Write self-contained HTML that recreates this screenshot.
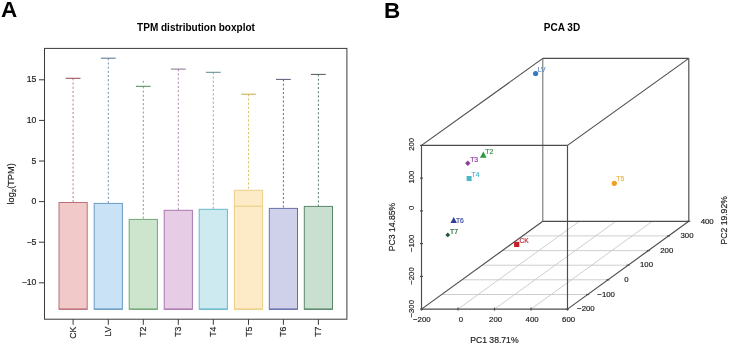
<!DOCTYPE html>
<html><head><meta charset="utf-8"><style>
html,body{margin:0;padding:0;background:#fff;width:729px;height:345px;overflow:hidden}
svg{display:block;font-family:"Liberation Sans", sans-serif;will-change:transform}
</style></head><body>
<svg width="729" height="345" viewBox="0 0 729 345">
<rect width="729" height="345" fill="#fff"/>
<text x="0.9" y="17.45" font-size="22.5" text-anchor="start" font-weight="bold" fill="#000">A</text>
<text x="196" y="30.8" font-size="10" text-anchor="middle" font-weight="bold" fill="#000">TPM distribution boxplot</text>
<rect x="44.5" y="48.4" width="302.4" height="270.8" fill="none" stroke="#3a3a3a" stroke-width="1"/>
<line x1="39" y1="79.8" x2="44.5" y2="79.8" stroke="#3a3a3a" stroke-width="1"/>
<text x="36.4" y="82.4" font-size="8.7" text-anchor="end" font-weight="normal" fill="#222" stroke="#222" stroke-width="0.18">15</text>
<line x1="39" y1="120.4" x2="44.5" y2="120.4" stroke="#3a3a3a" stroke-width="1"/>
<text x="36.4" y="123.0" font-size="8.7" text-anchor="end" font-weight="normal" fill="#222" stroke="#222" stroke-width="0.18">10</text>
<line x1="39" y1="161.0" x2="44.5" y2="161.0" stroke="#3a3a3a" stroke-width="1"/>
<text x="36.4" y="163.6" font-size="8.7" text-anchor="end" font-weight="normal" fill="#222" stroke="#222" stroke-width="0.18">5</text>
<line x1="39" y1="201.6" x2="44.5" y2="201.6" stroke="#3a3a3a" stroke-width="1"/>
<text x="36.4" y="204.2" font-size="8.7" text-anchor="end" font-weight="normal" fill="#222" stroke="#222" stroke-width="0.18">0</text>
<line x1="39" y1="242.2" x2="44.5" y2="242.2" stroke="#3a3a3a" stroke-width="1"/>
<text x="36.4" y="244.79999999999998" font-size="8.7" text-anchor="end" font-weight="normal" fill="#222" stroke="#222" stroke-width="0.18">−5</text>
<line x1="39" y1="282.8" x2="44.5" y2="282.8" stroke="#3a3a3a" stroke-width="1"/>
<text x="36.4" y="285.4" font-size="8.7" text-anchor="end" font-weight="normal" fill="#222" stroke="#222" stroke-width="0.18">−10</text>
<text x="14.3" y="183.9" font-size="9.2" text-anchor="middle" font-weight="normal" fill="#222" stroke="#222" stroke-width="0.18" transform="rotate(-90 14.3 183.9)">log<tspan font-size="6.2" dy="1.7">2</tspan><tspan dy="-1.7">(TPM)</tspan></text>
<line x1="73.1" y1="78.3" x2="73.1" y2="202.5" stroke="#b48288" stroke-width="1" stroke-dasharray="2.1 2.1"/>
<line x1="65.69999999999999" y1="78.3" x2="80.5" y2="78.3" stroke="#8a4a52" stroke-width="1"/>
<rect x="58.99999999999999" y="202.5" width="28.2" height="106.7" fill="#f2c9c9" stroke="#bc7078" stroke-width="1"/>
<line x1="58.99999999999999" y1="309.2" x2="87.19999999999999" y2="309.2" stroke="#bc7078" stroke-width="1.2"/>
<line x1="73.1" y1="319.2" x2="73.1" y2="324.8" stroke="#3a3a3a" stroke-width="1"/>
<text x="76.19999999999999" y="326.6" font-size="8.7" text-anchor="end" font-weight="normal" fill="#222" stroke="#222" stroke-width="0.18" transform="rotate(-90 76.19999999999999 326.6)">CK</text>
<line x1="108.3" y1="58.2" x2="108.3" y2="203.4" stroke="#7890b4" stroke-width="1" stroke-dasharray="2.1 2.1"/>
<line x1="100.89999999999999" y1="58.2" x2="115.7" y2="58.2" stroke="#50708a" stroke-width="1"/>
<rect x="94.2" y="203.4" width="28.2" height="105.8" fill="#c9e2f5" stroke="#6a9cc4" stroke-width="1"/>
<line x1="94.2" y1="309.2" x2="122.39999999999999" y2="309.2" stroke="#6a9cc4" stroke-width="1.2"/>
<line x1="108.3" y1="319.2" x2="108.3" y2="324.8" stroke="#3a3a3a" stroke-width="1"/>
<text x="111.39999999999999" y="326.6" font-size="8.7" text-anchor="end" font-weight="normal" fill="#222" stroke="#222" stroke-width="0.18" transform="rotate(-90 111.39999999999999 326.6)">LV</text>
<line x1="143.3" y1="86.3" x2="143.3" y2="219.4" stroke="#78a87c" stroke-width="1" stroke-dasharray="2.1 2.1"/>
<line x1="135.9" y1="86.3" x2="150.70000000000002" y2="86.3" stroke="#4a8a55" stroke-width="1"/>
<rect x="129.20000000000002" y="219.4" width="28.2" height="89.8" fill="#cde5cc" stroke="#70a878" stroke-width="1"/>
<line x1="129.20000000000002" y1="309.2" x2="157.4" y2="309.2" stroke="#70a878" stroke-width="1.2"/>
<line x1="143.3" y1="319.2" x2="143.3" y2="324.8" stroke="#3a3a3a" stroke-width="1"/>
<text x="146.4" y="326.6" font-size="8.7" text-anchor="end" font-weight="normal" fill="#222" stroke="#222" stroke-width="0.18" transform="rotate(-90 146.4 326.6)">T2</text>
<line x1="178.3" y1="69.1" x2="178.3" y2="210.3" stroke="#b088a8" stroke-width="1" stroke-dasharray="2.1 2.1"/>
<line x1="170.9" y1="69.1" x2="185.70000000000002" y2="69.1" stroke="#8a6a90" stroke-width="1"/>
<rect x="164.20000000000002" y="210.3" width="28.2" height="98.9" fill="#e7cce5" stroke="#a878b0" stroke-width="1"/>
<line x1="164.20000000000002" y1="309.2" x2="192.4" y2="309.2" stroke="#a878b0" stroke-width="1.2"/>
<line x1="178.3" y1="319.2" x2="178.3" y2="324.8" stroke="#3a3a3a" stroke-width="1"/>
<text x="181.4" y="326.6" font-size="8.7" text-anchor="end" font-weight="normal" fill="#222" stroke="#222" stroke-width="0.18" transform="rotate(-90 181.4 326.6)">T3</text>
<line x1="213.3" y1="72.3" x2="213.3" y2="209.3" stroke="#78b4c4" stroke-width="1" stroke-dasharray="2.1 2.1"/>
<line x1="205.9" y1="72.3" x2="220.70000000000002" y2="72.3" stroke="#5a8a90" stroke-width="1"/>
<rect x="199.20000000000002" y="209.3" width="28.2" height="99.9" fill="#cdeaf1" stroke="#68b8cc" stroke-width="1"/>
<line x1="199.20000000000002" y1="309.2" x2="227.4" y2="309.2" stroke="#68b8cc" stroke-width="1.2"/>
<line x1="213.3" y1="319.2" x2="213.3" y2="324.8" stroke="#3a3a3a" stroke-width="1"/>
<text x="216.4" y="326.6" font-size="8.7" text-anchor="end" font-weight="normal" fill="#222" stroke="#222" stroke-width="0.18" transform="rotate(-90 216.4 326.6)">T4</text>
<line x1="248.5" y1="94.2" x2="248.5" y2="190.3" stroke="#dcc070" stroke-width="1" stroke-dasharray="2.1 2.1"/>
<line x1="241.1" y1="94.2" x2="255.9" y2="94.2" stroke="#c8a848" stroke-width="1"/>
<rect x="234.4" y="190.3" width="28.2" height="118.9" fill="#fdebc8" stroke="#eccf88" stroke-width="1"/>
<line x1="234.4" y1="206.2" x2="262.6" y2="206.2" stroke="#eccf88" stroke-width="1.2"/>
<line x1="234.4" y1="309.2" x2="262.6" y2="309.2" stroke="#eccf88" stroke-width="1.2"/>
<line x1="248.5" y1="319.2" x2="248.5" y2="324.8" stroke="#3a3a3a" stroke-width="1"/>
<text x="251.6" y="326.6" font-size="8.7" text-anchor="end" font-weight="normal" fill="#222" stroke="#222" stroke-width="0.18" transform="rotate(-90 251.6 326.6)">T5</text>
<line x1="283.4" y1="79.4" x2="283.4" y2="208.4" stroke="#606a98" stroke-width="1" stroke-dasharray="2.1 2.1"/>
<line x1="276.0" y1="79.4" x2="290.79999999999995" y2="79.4" stroke="#5a5a78" stroke-width="1"/>
<rect x="269.29999999999995" y="208.4" width="28.2" height="100.8" fill="#cfd0ea" stroke="#6870aa" stroke-width="1"/>
<line x1="269.29999999999995" y1="309.2" x2="297.5" y2="309.2" stroke="#6870aa" stroke-width="1.2"/>
<line x1="283.4" y1="319.2" x2="283.4" y2="324.8" stroke="#3a3a3a" stroke-width="1"/>
<text x="286.5" y="326.6" font-size="8.7" text-anchor="end" font-weight="normal" fill="#222" stroke="#222" stroke-width="0.18" transform="rotate(-90 286.5 326.6)">T6</text>
<line x1="318.4" y1="74.4" x2="318.4" y2="206.4" stroke="#5a8068" stroke-width="1" stroke-dasharray="2.1 2.1"/>
<line x1="311.0" y1="74.4" x2="325.79999999999995" y2="74.4" stroke="#4a5a50" stroke-width="1"/>
<rect x="304.29999999999995" y="206.4" width="28.2" height="102.8" fill="#c9e0d1" stroke="#58886a" stroke-width="1"/>
<line x1="304.29999999999995" y1="309.2" x2="332.5" y2="309.2" stroke="#58886a" stroke-width="1.2"/>
<line x1="318.4" y1="319.2" x2="318.4" y2="324.8" stroke="#3a3a3a" stroke-width="1"/>
<text x="321.5" y="326.6" font-size="8.7" text-anchor="end" font-weight="normal" fill="#222" stroke="#222" stroke-width="0.18" transform="rotate(-90 321.5 326.6)">T7</text>
<line x1="143.3" y1="80.8" x2="143.3" y2="82.8" stroke="#78a87c" stroke-width="1"/>
<text x="384.1" y="17.85" font-size="22.5" text-anchor="start" font-weight="bold" fill="#000">B</text>
<text x="562" y="30.5" font-size="10" text-anchor="middle" font-weight="bold" fill="#000">PCA 3D</text>
<line x1="441.7" y1="294.5" x2="587.7" y2="294.5" stroke="#c8c8c8" stroke-width="0.9"/>
<line x1="461.9" y1="279.8" x2="607.9" y2="279.8" stroke="#c8c8c8" stroke-width="0.9"/>
<line x1="482.1" y1="265.2" x2="628.1" y2="265.2" stroke="#c8c8c8" stroke-width="0.9"/>
<line x1="502.4" y1="250.6" x2="648.4" y2="250.6" stroke="#c8c8c8" stroke-width="0.9"/>
<line x1="522.6" y1="235.9" x2="668.6" y2="235.9" stroke="#c8c8c8" stroke-width="0.9"/>
<line x1="458.0" y1="309.1" x2="579.3" y2="221.3" stroke="#c8c8c8" stroke-width="0.9"/>
<line x1="494.5" y1="309.1" x2="615.8" y2="221.3" stroke="#c8c8c8" stroke-width="0.9"/>
<line x1="531.0" y1="309.1" x2="652.3" y2="221.3" stroke="#c8c8c8" stroke-width="0.9"/>
<line x1="542.8" y1="221.3" x2="542.8" y2="58.4" stroke="#7a7a7a" stroke-width="1.15"/>
<line x1="542.8" y1="58.4" x2="688.8" y2="58.4" stroke="#4c4c4c" stroke-width="1.15"/>
<line x1="688.8" y1="221.3" x2="688.8" y2="58.4" stroke="#4c4c4c" stroke-width="1.15"/>
<line x1="542.8" y1="221.3" x2="688.8" y2="221.3" stroke="#4c4c4c" stroke-width="1.15"/>
<line x1="421.5" y1="145.4" x2="542.8" y2="58.4" stroke="#4c4c4c" stroke-width="1.15"/>
<line x1="567.5" y1="145.4" x2="688.8" y2="58.4" stroke="#4c4c4c" stroke-width="1.15"/>
<line x1="421.5" y1="309.1" x2="542.8" y2="221.3" stroke="#4c4c4c" stroke-width="1.15"/>
<line x1="567.5" y1="309.1" x2="688.8" y2="221.3" stroke="#4c4c4c" stroke-width="1.15"/>
<line x1="421.5" y1="309.1" x2="567.5" y2="309.1" stroke="#4c4c4c" stroke-width="1.15"/>
<line x1="421.5" y1="145.4" x2="567.5" y2="145.4" stroke="#4c4c4c" stroke-width="1.15"/>
<line x1="421.5" y1="309.1" x2="421.5" y2="145.4" stroke="#4c4c4c" stroke-width="1.15"/>
<line x1="567.5" y1="309.1" x2="567.5" y2="145.4" stroke="#4c4c4c" stroke-width="1.15"/>
<line x1="421.5" y1="307.6" x2="421.5" y2="310.6" stroke="#4c4c4c" stroke-width="1.15"/>
<line x1="458.0" y1="307.6" x2="458.0" y2="310.6" stroke="#4c4c4c" stroke-width="1.15"/>
<line x1="494.5" y1="307.6" x2="494.5" y2="310.6" stroke="#4c4c4c" stroke-width="1.15"/>
<line x1="531.0" y1="307.6" x2="531.0" y2="310.6" stroke="#4c4c4c" stroke-width="1.15"/>
<line x1="567.5" y1="307.6" x2="567.5" y2="310.6" stroke="#4c4c4c" stroke-width="1.15"/>
<line x1="420.0" y1="309.1" x2="423.0" y2="309.1" stroke="#4c4c4c" stroke-width="1.15"/>
<line x1="420.0" y1="276.4" x2="423.0" y2="276.4" stroke="#4c4c4c" stroke-width="1.15"/>
<line x1="420.0" y1="243.6" x2="423.0" y2="243.6" stroke="#4c4c4c" stroke-width="1.15"/>
<line x1="420.0" y1="210.9" x2="423.0" y2="210.9" stroke="#4c4c4c" stroke-width="1.15"/>
<line x1="420.0" y1="178.1" x2="423.0" y2="178.1" stroke="#4c4c4c" stroke-width="1.15"/>
<line x1="420.0" y1="145.4" x2="423.0" y2="145.4" stroke="#4c4c4c" stroke-width="1.15"/>
<line x1="566.0" y1="309.1" x2="569.0" y2="309.1" stroke="#4c4c4c" stroke-width="1.15"/>
<line x1="586.2" y1="294.5" x2="589.2" y2="294.5" stroke="#4c4c4c" stroke-width="1.15"/>
<line x1="606.4" y1="279.8" x2="609.4" y2="279.8" stroke="#4c4c4c" stroke-width="1.15"/>
<line x1="626.6" y1="265.2" x2="629.6" y2="265.2" stroke="#4c4c4c" stroke-width="1.15"/>
<line x1="646.9" y1="250.6" x2="649.9" y2="250.6" stroke="#4c4c4c" stroke-width="1.15"/>
<line x1="667.1" y1="235.9" x2="670.1" y2="235.9" stroke="#4c4c4c" stroke-width="1.15"/>
<line x1="687.3" y1="221.3" x2="690.3" y2="221.3" stroke="#4c4c4c" stroke-width="1.15"/>
<text x="421.8" y="322.4" font-size="7.8" text-anchor="middle" font-weight="normal" fill="#222" stroke="#222" stroke-width="0.18">−200</text>
<text x="461.0" y="322.4" font-size="7.8" text-anchor="middle" font-weight="normal" fill="#222" stroke="#222" stroke-width="0.18">0</text>
<text x="495.6" y="322.4" font-size="7.8" text-anchor="middle" font-weight="normal" fill="#222" stroke="#222" stroke-width="0.18">200</text>
<text x="532.1" y="322.4" font-size="7.8" text-anchor="middle" font-weight="normal" fill="#222" stroke="#222" stroke-width="0.18">400</text>
<text x="568.6" y="322.4" font-size="7.8" text-anchor="middle" font-weight="normal" fill="#222" stroke="#222" stroke-width="0.18">600</text>
<text x="413.9" y="308.8" font-size="7.8" text-anchor="middle" font-weight="normal" fill="#222" stroke="#222" stroke-width="0.18" transform="rotate(-90 413.9 308.8)">−300</text>
<text x="413.9" y="276.06" font-size="7.8" text-anchor="middle" font-weight="normal" fill="#222" stroke="#222" stroke-width="0.18" transform="rotate(-90 413.9 276.06)">−200</text>
<text x="413.9" y="243.32" font-size="7.8" text-anchor="middle" font-weight="normal" fill="#222" stroke="#222" stroke-width="0.18" transform="rotate(-90 413.9 243.32)">−100</text>
<text x="413.9" y="207.88" font-size="7.8" text-anchor="middle" font-weight="normal" fill="#222" stroke="#222" stroke-width="0.18" transform="rotate(-90 413.9 207.88)">0</text>
<text x="413.9" y="177.04000000000002" font-size="7.8" text-anchor="middle" font-weight="normal" fill="#222" stroke="#222" stroke-width="0.18" transform="rotate(-90 413.9 177.04000000000002)">100</text>
<text x="413.9" y="144.3" font-size="7.8" text-anchor="middle" font-weight="normal" fill="#222" stroke="#222" stroke-width="0.18" transform="rotate(-90 413.9 144.3)">200</text>
<text x="585.9" y="311.3" font-size="7.8" text-anchor="middle" font-weight="normal" fill="#222" stroke="#222" stroke-width="0.18">−200</text>
<text x="606.1166666666667" y="296.6666666666667" font-size="7.8" text-anchor="middle" font-weight="normal" fill="#222" stroke="#222" stroke-width="0.18">−100</text>
<text x="626.3333333333333" y="282.03333333333336" font-size="7.8" text-anchor="middle" font-weight="normal" fill="#222" stroke="#222" stroke-width="0.18">0</text>
<text x="646.55" y="267.40000000000003" font-size="7.8" text-anchor="middle" font-weight="normal" fill="#222" stroke="#222" stroke-width="0.18">100</text>
<text x="666.7666666666667" y="252.76666666666668" font-size="7.8" text-anchor="middle" font-weight="normal" fill="#222" stroke="#222" stroke-width="0.18">200</text>
<text x="686.9833333333333" y="238.13333333333333" font-size="7.8" text-anchor="middle" font-weight="normal" fill="#222" stroke="#222" stroke-width="0.18">300</text>
<text x="707.1999999999999" y="223.5" font-size="7.8" text-anchor="middle" font-weight="normal" fill="#222" stroke="#222" stroke-width="0.18">400</text>
<text x="494.4" y="343.3" font-size="8.6" text-anchor="middle" font-weight="normal" fill="#222" stroke="#222" stroke-width="0.18">PC1 38.71%</text>
<text x="394.6" y="227" font-size="8.6" text-anchor="middle" font-weight="normal" fill="#222" stroke="#222" stroke-width="0.18" transform="rotate(-90 394.6 227)">PC3 14.85%</text>
<text x="727.2" y="220.3" font-size="8.6" text-anchor="middle" font-weight="normal" fill="#222" stroke="#222" stroke-width="0.18" transform="rotate(-90 727.2 220.3)">PC2 19.92%</text>
<circle cx="535.6" cy="73.5" r="2.6" fill="#3a78c4"/>
<text x="537.8" y="72" font-size="6.8" text-anchor="start" font-weight="normal" fill="#5a8ac8" stroke="#5a8ac8" stroke-width="0.18">LV</text>
<polygon points="479.95,157.681 486.65000000000003,157.681 483.3,151.45000000000002" fill="#2a9a40"/>
<text x="485.3" y="153.7" font-size="6.8" text-anchor="start" font-weight="normal" fill="#3a8a4a" stroke="#3a8a4a" stroke-width="0.18">T2</text>
<polygon points="467.8,160.5 470.5,163.2 467.8,165.89999999999998 465.1,163.2" fill="#8e3f9e"/>
<text x="470.2" y="162" font-size="6.8" text-anchor="start" font-weight="normal" fill="#8e3a9e" stroke="#8e3a9e" stroke-width="0.18">T3</text>
<rect x="466.6" y="176.0" width="5.0" height="5.0" fill="#48b8c8"/>
<text x="471.6" y="177" font-size="6.8" text-anchor="start" font-weight="normal" fill="#44b4cc" stroke="#44b4cc" stroke-width="0.18">T4</text>
<circle cx="614.3" cy="183.3" r="2.6" fill="#f0a020"/>
<text x="616.3" y="181.4" font-size="6.8" text-anchor="start" font-weight="normal" fill="#f0b440" stroke="#f0b440" stroke-width="0.18">T5</text>
<polygon points="450.5,222.952 456.9,222.952 453.7,217.0" fill="#2c3e98"/>
<text x="455.9" y="223.3" font-size="6.8" text-anchor="start" font-weight="normal" fill="#3a4aa0" stroke="#3a4aa0" stroke-width="0.18">T6</text>
<polygon points="447.8,232.5 450.2,234.9 447.8,237.3 445.40000000000003,234.9" fill="#1d5a32"/>
<text x="450.1" y="233.9" font-size="6.8" text-anchor="start" font-weight="normal" fill="#24603a" stroke="#24603a" stroke-width="0.18">T7</text>
<rect x="514.1" y="241.8" width="5.2" height="5.2" fill="#c8202a"/>
<text x="519.5" y="242.6" font-size="6.6" text-anchor="start" font-weight="normal" fill="#c02838" stroke="#c02838" stroke-width="0.18">CK</text>
</svg></body></html>
